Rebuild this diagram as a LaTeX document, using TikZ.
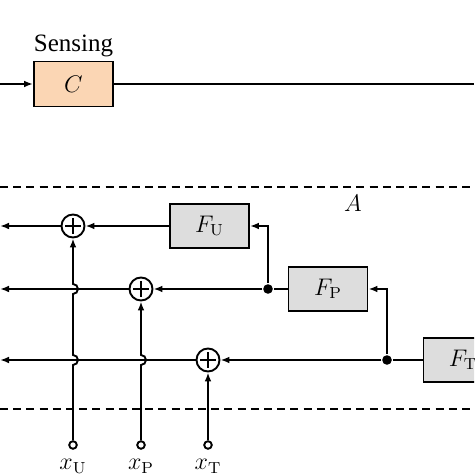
\documentclass[tikz,border=0pt]{standalone}
\usepackage{fontspec}
\usepackage{xcolor}
\usepackage{tikz}
\usetikzlibrary{positioning, arrows.meta, calc}
\newfontfamily\sensefont{Liberation Serif}
\definecolor{snorange}{HTML}{FBD6B4}
\definecolor{fbgray}{HTML}{DDDDDD}

\begin{document}
\begin{tikzpicture}[
  x=0.5pt, y=0.5pt,
  font=\fontsize{12}{14}\selectfont,
  line width=0.95pt,
  cblock/.style={
    rectangle, draw, fill=snorange,
    minimum width=39.5pt, minimum height=22.5pt
  },
  fblock/.style={
    rectangle, draw, fill=fbgray,
    minimum width=39.5pt, minimum height=22pt
  },
  summer/.style={
    circle, draw, fill=white, inner sep=0pt, minimum size=11.5pt,
    path picture={\draw (path picture bounding box.center) ++(-3.8pt,0) -- ++(7.6pt,0)
      (path picture bounding box.center) ++(0,-3.8pt) -- ++(0,7.6pt);}
  },
  junction/.style={circle, fill, inner sep=0pt, minimum size=4.8pt},
  inport/.style={circle, draw, fill=white, inner sep=0pt, minimum size=3.8pt},
  arr/.style={-{Latex[length=4.5pt,width=3.4pt]}},
  sep/.style={dash pattern=on 4pt off 2.6pt},
]
\useasboundingbox (0,0) rectangle (474,474);
\clip (0,0) rectangle (474,474);

% Sensing
\node[cblock] (C) at (73.5,390) {$C$};
\node[font=\sensefont\fontsize{12.5}{14}\selectfont, above=-1.8pt of C] (sensing) {Sensing};
\coordinate (in) at (0,390);
\coordinate (out) at (474,390);
\draw[arr] (in) -- (C);
\draw (C) -- (out);

% Block A
\coordinate (sepTL) at (0,287);
\coordinate (sepTR) at (474,287);
\coordinate (sepBL) at (0,65);
\coordinate (sepBR) at (474,65);
\draw[sep] (sepTL) -- (sepTR);
\draw[sep] (sepBL) -- (sepBR);
\node (A) at (353,271) {$A$};

% Filters
\node[fblock] (FU) at (209.5,248) {$F_{\mathrm{U}}$};
\node[fblock] (FP) at (328,185) {$F_{\mathrm{P}}$};
\node[fblock] (FT) at (463,114) {$F_{\mathrm{T}}$};

% Sums and junctions
\node[summer] (sumU) at (73,248) {};
\node[summer] (sumP) at (141,185) {};
\node[summer] (sumT) at (208,114) {};
\node[junction] (dotP) at (268,185) {};
\node[junction] (dotT) at (387,114) {};

% Inputs
\node[inport] (inU) at (73,29) {};
\node[inport] (inP) at (141,29) {};
\node[inport] (inT) at (208,29) {};
\node[below=1pt of inU] (xU) {$x_{\mathrm{U}}$};
\node[below=1pt of inP] (xP) {$x_{\mathrm{P}}$};
\node[below=1pt of inT] (xT) {$x_{\mathrm{T}}$};

% Outputs
\coordinate (outU) at (0,248);
\coordinate (outP) at (0,185);
\coordinate (outT) at (0,114);

% Arrows
\draw[arr] (sumU) -- (outU);
\draw[arr] (sumP) -- (outP);
\draw[arr] (sumT) -- (outT);
\draw[arr] (FU) -- (sumU);
\draw (FP) -- (dotP);
\draw[arr] (dotP) -- (sumP);
\draw (FT) -- (dotT);
\draw[arr] (dotT) -- (sumT);
\draw[arr] (dotP) |- (FU.east);
\draw[arr] (dotT) |- (FP.east);
\draw[arr] (inU) -- (73,109) arc[start angle=-90, end angle=90, radius=5]
  -- (73,180) arc[start angle=-90, end angle=90, radius=5] -- (sumU);
\draw[arr] (inP) -- (141,109) arc[start angle=-90, end angle=90, radius=5] -- (sumP);
\draw[arr] (inT) -- (sumT);

\end{tikzpicture}
\end{document}
